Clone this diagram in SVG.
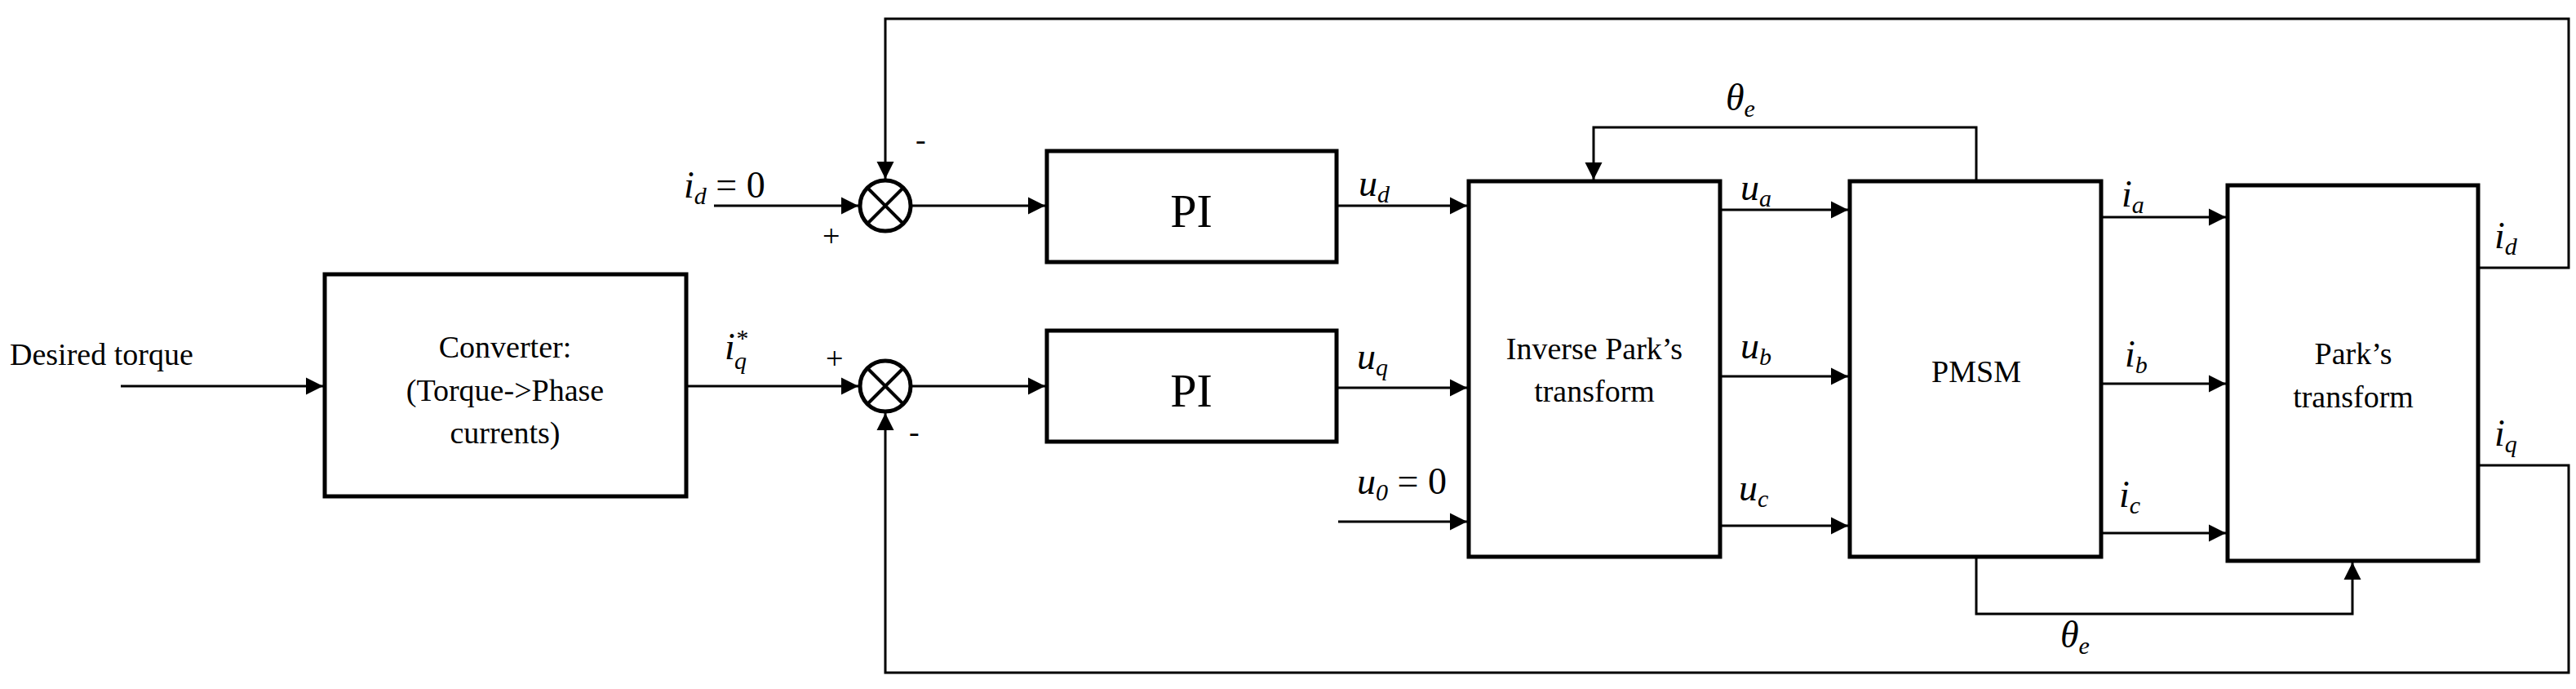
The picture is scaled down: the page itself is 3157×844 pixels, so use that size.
<svg xmlns="http://www.w3.org/2000/svg" width="3157" height="844" viewBox="0 0 3157 844">
<style>
.box{fill:#fff;stroke:#000;stroke-width:5}
.ln{fill:none;stroke:#000;stroke-width:3}
.t{font-family:'Liberation Serif','DejaVu Serif',serif;font-size:38px;fill:#000}
.m{font-family:'Liberation Serif','DejaVu Serif',serif;font-style:italic;font-size:46px;fill:#000}
.s{font-size:30px}
.pi{font-family:'Liberation Serif','DejaVu Serif',serif;font-size:58px;fill:#000}
</style>
<defs>
<marker id="a" markerWidth="8" markerHeight="8" refX="7" refY="4" orient="auto" markerUnits="strokeWidth">
<path d="M0,0.5 L7,4 L0,7.5 Z" fill="#000"/>
</marker>
</defs>
<rect width="3157" height="844" fill="#fff"/>
<g id="connectors">
<line class="ln" x1="148" y1="473" x2="396" y2="473" marker-end="url(#a)"/>
<line class="ln" x1="841" y1="473" x2="1052" y2="473" marker-end="url(#a)"/>
<line class="ln" x1="875" y1="252" x2="1052" y2="252" marker-end="url(#a)"/>
<line class="ln" x1="1116" y1="252" x2="1281" y2="252" marker-end="url(#a)"/>
<line class="ln" x1="1116" y1="473" x2="1281" y2="473" marker-end="url(#a)"/>
<line class="ln" x1="1638" y1="252" x2="1798" y2="252" marker-end="url(#a)"/>
<line class="ln" x1="1638" y1="475" x2="1798" y2="475" marker-end="url(#a)"/>
<line class="ln" x1="1640" y1="639" x2="1798" y2="639" marker-end="url(#a)"/>
<line class="ln" x1="2108" y1="257" x2="2265" y2="257" marker-end="url(#a)"/>
<line class="ln" x1="2108" y1="461" x2="2265" y2="461" marker-end="url(#a)"/>
<line class="ln" x1="2108" y1="644" x2="2265" y2="644" marker-end="url(#a)"/>
<line class="ln" x1="2575" y1="266" x2="2728" y2="266" marker-end="url(#a)"/>
<line class="ln" x1="2575" y1="470" x2="2728" y2="470" marker-end="url(#a)"/>
<line class="ln" x1="2575" y1="653" x2="2728" y2="653" marker-end="url(#a)"/>
<polyline class="ln" points="2422,222 2422,156 1953,156 1953,220" marker-end="url(#a)"/>
<polyline class="ln" points="2422,682 2422,752 2883,752 2883,689" marker-end="url(#a)"/>
<polyline class="ln" points="3037,328 3148,328 3148,23 1085,23 1085,219" marker-end="url(#a)"/>
<polyline class="ln" points="3037,570 3148,570 3148,824 1085,824 1085,506" marker-end="url(#a)"/>
</g>
<g id="sum1"><circle cx="1085" cy="252" r="31" class="box"/><path class="ln" d="M1063,230 L1107,274 M1107,230 L1063,274" style="stroke-width:4"/></g>
<g id="sum2"><circle cx="1085" cy="473" r="31" class="box"/><path class="ln" d="M1063,451 L1107,495 M1107,451 L1063,495" style="stroke-width:4"/></g>
<g id="converter"><rect class="box" x="398" y="336" width="443" height="272"/>
<text class="t" text-anchor="middle" x="619" y="438">Converter:</text>
<text class="t" text-anchor="middle" x="619" y="491">(Torque-&gt;Phase</text>
<text class="t" text-anchor="middle" x="619" y="543">currents)</text></g>
<g id="pi1"><rect class="box" x="1283" y="185" width="355" height="136"/><text class="pi" text-anchor="middle" x="1460" y="278">PI</text></g>
<g id="pi2"><rect class="box" x="1283" y="405" width="355" height="136"/><text class="pi" text-anchor="middle" x="1460" y="498">PI</text></g>
<g id="invpark"><rect class="box" x="1800" y="222" width="308" height="460"/>
<text class="t" text-anchor="middle" x="1954" y="440">Inverse Park’s</text>
<text class="t" text-anchor="middle" x="1954" y="492">transform</text></g>
<g id="pmsm"><rect class="box" x="2267" y="222" width="308" height="460"/><text class="t" text-anchor="middle" x="2422" y="468">PMSM</text></g>
<g id="park"><rect class="box" x="2730" y="227" width="307" height="460"/>
<text class="t" text-anchor="middle" x="2884" y="446">Park’s</text>
<text class="t" text-anchor="middle" x="2884" y="499">transform</text></g>
<g id="labels">
<text class="t" x="12" y="447">Desired torque</text>
<text class="m" x="838" y="242">i<tspan class="s" dy="8">d</tspan><tspan dy="-8" font-style="normal"> = 0</tspan></text>
<text class="m" x="888" y="440">i</text>
<text class="m s" x="901" y="424">*</text>
<text class="m s" x="900" y="452">q</text>
<text class="t" x="1008" y="302" font-size="44">+</text>
<text class="t" x="1122" y="184" font-size="44">-</text>
<text class="t" x="1012" y="452" font-size="44">+</text>
<text class="t" x="1114" y="542" font-size="44">-</text>
<text class="m" x="1665" y="240">u<tspan class="s" dy="8">d</tspan></text>
<text class="m" x="1663" y="452">u<tspan class="s" dy="8">q</tspan></text>
<text class="m" x="1663" y="605">u<tspan class="s" dy="8">0</tspan><tspan dy="-8" font-style="normal"> = 0</tspan></text>
<text class="m" x="2133" y="245">u<tspan class="s" dy="8">a</tspan></text>
<text class="m" x="2133" y="439">u<tspan class="s" dy="8">b</tspan></text>
<text class="m" x="2131" y="613">u<tspan class="s" dy="8">c</tspan></text>
<text class="m" x="2600" y="253">i<tspan class="s" dy="8">a</tspan></text>
<text class="m" x="2604" y="449">i<tspan class="s" dy="8">b</tspan></text>
<text class="m" x="2597" y="621">i<tspan class="s" dy="8">c</tspan></text>
<text class="m" x="3057" y="304">i<tspan class="s" dy="8">d</tspan></text>
<text class="m" x="3057" y="546">i<tspan class="s" dy="8">q</tspan></text>
<text class="m" x="2115" y="135">θ<tspan class="s" dy="8">e</tspan></text>
<text class="m" x="2525" y="793">θ<tspan class="s" dy="8">e</tspan></text>
</g>
</svg>
